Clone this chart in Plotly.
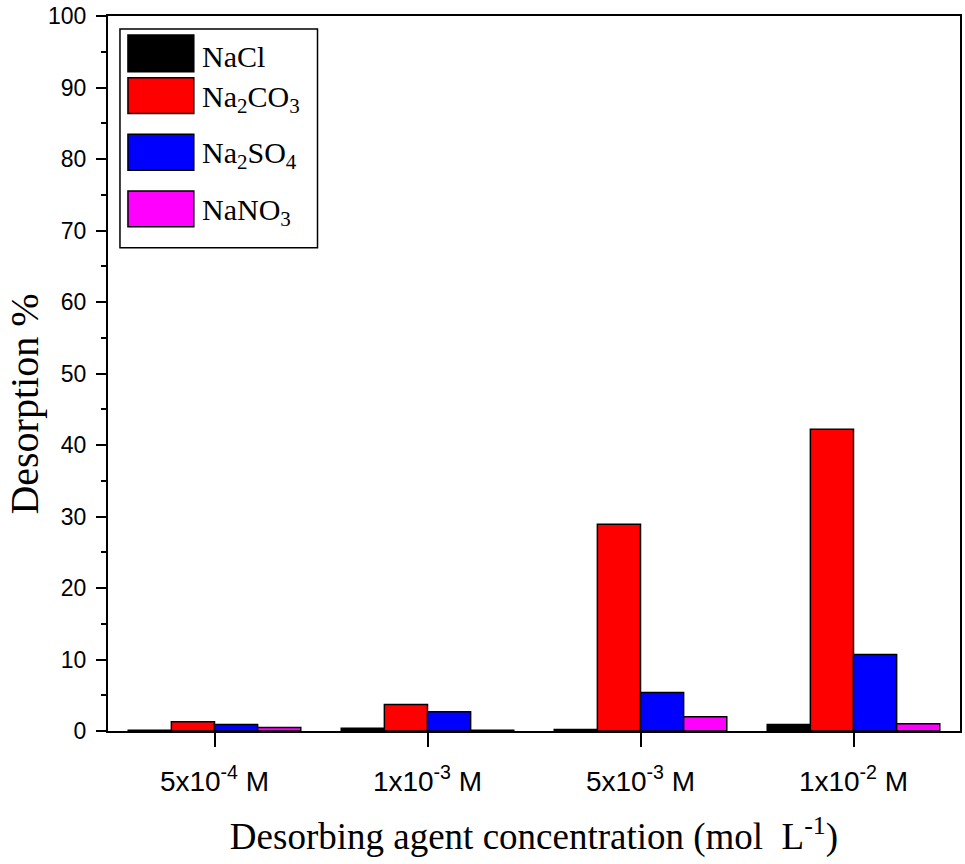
import plotly.graph_objects as go

# Dados
concentracoes = ["5x10<sup>-4</sup> M", "1x10<sup>-3</sup> M", "5x10<sup>-3</sup> M", "1x10<sup>-2</sup> M"]
series = ["NaCl", "Na<sub>2</sub>CO<sub>3</sub>", "Na<sub>2</sub>SO<sub>4</sub>", "NaNO<sub>3</sub>"]
nacl = [0.1, 0.4, 0.2, 0.9]
na2co3 = [1.3, 3.7, 28.9, 42.2]
na2so4 = [0.9, 2.7, 5.4, 10.7]
nano3 = [0.5, 0.1, 2.0, 1.0]
cores = ["#000000", "#ff0000", "#0000ff", "#ff00ff"]

valores = [nacl, na2co3, na2so4, nano3]

fig = go.Figure()
for nome, y, cor in zip(series, valores, cores):
    fig.add_trace(go.Bar(
        x=concentracoes,
        y=y,
        name=nome,
        marker=dict(color=cor, line=dict(color="black", width=1.5)),
        showlegend=False,
    ))

fig.update_layout(
    width=965,
    height=864,
    barmode="group",
    bargap=0.19,
    bargroupgap=0,
    plot_bgcolor="white",
    paper_bgcolor="white",
    margin=dict(l=108, r=3, t=12, b=133),
    font=dict(family="Liberation Sans", color="black"),
)

fig.update_xaxes(
    range=[-0.5, 3.5],
    showline=True, linecolor="black", linewidth=2, mirror=True,
    ticks="outside", ticklen=14, tickwidth=2, tickcolor="black",
    tickfont=dict(size=28, family="Liberation Sans"),
    ticklabelstandoff=10,
    title=dict(text="Desorbing agent concentration (mol  L<sup>-1</sup>)",
               font=dict(size=37, family="Liberation Serif"), standoff=28),
)
fig.update_yaxes(
    range=[0, 100], dtick=10,
    showline=True, linecolor="black", linewidth=2, mirror=True,
    showgrid=False, zeroline=False,
    ticks="outside", ticklen=10, tickwidth=2, tickcolor="black",
    minor=dict(dtick=5, ticks="outside", ticklen=5, tickwidth=2, tickcolor="black"),
    tickfont=dict(size=23, family="Liberation Sans"),
    ticklabelstandoff=5,
    ticklabeloverflow="allow",
)

def px_x(p):
    return (p - 108) / 854

def px_y(p):
    return (731 - p) / 719

# Título do eixo Y (um pouco abaixo do centro, como no original)
fig.add_annotation(xref="paper", yref="paper", x=px_x(0), y=px_y(402),
                   text="Desorption %", textangle=-90, showarrow=False,
                   xanchor="left", yanchor="middle",
                   font=dict(size=40, family="Liberation Serif", color="black"))

# Legenda desenhada à mão (caixas grandes como no original)
fig.add_shape(type="rect", xref="paper", yref="paper",
              x0=px_x(120), x1=px_x(318), y0=px_y(245), y1=px_y(25),
              line=dict(color="black", width=1.5), fillcolor="white", layer="above")
linhas = [(31, 68), (74, 110), (131, 167), (188, 224)]
for (topo, base), nome, cor in zip(linhas, series, cores):
    fig.add_shape(type="rect", xref="paper", yref="paper",
                  x0=px_x(128), x1=px_x(194), y0=px_y(base), y1=px_y(topo),
                  line=dict(color="black", width=1.5), fillcolor=cor, layer="above")
    fig.add_annotation(xref="paper", yref="paper", x=px_x(200), y=px_y((topo + base) / 2 + 3),
                       text=nome, showarrow=False, xanchor="left", yanchor="middle",
                       font=dict(size=30, family="Liberation Serif", color="black"))

fig.write_html("out.html", config={"displayModeBar": False},
               post_script="document.body.style.margin='0px';")
